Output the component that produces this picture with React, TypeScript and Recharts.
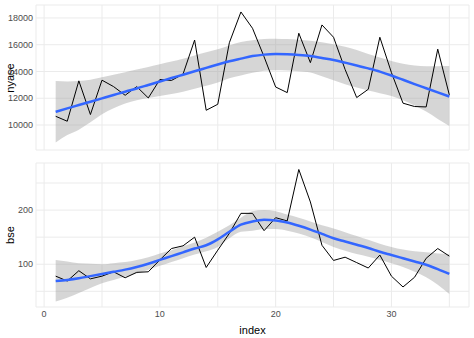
import React from 'react';
import { Area, CartesianGrid, ComposedChart, Label, Line, XAxis, YAxis } from 'recharts';

// values
const indexes = [
	1, 2, 3, 4, 5, 6, 7, 8, 9, 10, 11, 12, 13, 14, 15, 16, 17, 18, 19, 20, 21, 22, 23, 24, 25, 26, 27, 28, 29, 30, 31, 32, 33,
	34, 35,
];

const nyase = [
	10650, 10280, 13300, 10780, 13350, 12870, 12220, 12870, 12020, 13400, 13330, 13800, 16350, 11100, 11550, 16150, 18450,
	17230, 15100, 12840, 12420, 16860, 14660, 17480, 16560, 14150, 12050, 12670, 16560, 13920, 11630, 11380, 11350, 15670,
	12250,
];
const nyaseFit = [
	10980, 11240, 11490, 11740, 11990, 12240, 12490, 12730, 12990, 13250, 13510, 13760, 14020, 14270, 14520, 14760, 14960,
	15150, 15260, 15300, 15280, 15230, 15150, 15010, 14860, 14660, 14450, 14230, 13990, 13700, 13380, 13060, 12750, 12440,
	12130,
];
const nyaseHi = [
	13290, 13260, 13280, 13380, 13560, 13760, 13950, 14140, 14340, 14540, 14740, 14950, 15200, 15430, 15660, 15950, 16200,
	16330, 16420, 16450, 16420, 16370, 16300, 16190, 16030, 15840, 15600, 15300, 15050, 14780, 14580, 14440, 14400, 14400,
	14410,
];
const nyaseLo = [
	8700, 9250, 9650, 10200, 10800, 11250, 11600, 11850, 12020, 12170, 12320, 12480, 12700, 12930, 13170, 13500, 13700, 13900,
	14050, 14100, 14080, 14020, 13920, 13650, 13350, 13050, 12800, 12570, 12370, 12170, 11850, 11450, 11000, 10450, 9930,
];

const bse = [
	78, 69, 88, 73, 78, 86, 75, 85, 86, 108, 129, 134, 150, 94, 126, 157, 194, 194, 162, 186, 180, 275, 215, 135, 107, 113, 103,
	93, 117, 78, 58, 76, 111, 129, 115,
];
const bseFit = [
	69, 71, 74, 78, 82, 86, 90, 95, 101, 108, 115, 122, 129, 135, 146, 160, 173, 179, 182, 181, 177, 171, 164, 156, 148, 142,
	136, 130, 123, 117, 111, 105, 99, 91, 82,
];
const bseHi = [
	108, 105, 102, 101, 100, 102, 104, 108, 113, 120, 126, 133, 140, 149, 160, 172, 186, 198, 200, 198, 192, 186, 179, 172, 166,
	159, 152, 145, 138, 132, 127, 124, 122, 120, 119,
];
const bseLo = [
	31, 38, 47, 56, 65, 71, 77, 83, 90, 97, 104, 111, 118, 124, 132, 148, 160, 162, 165, 165, 162, 157, 150, 141, 132, 125, 119,
	114, 108, 102, 95, 86, 76, 62, 45,
];

const xTicks = [0, 5, 10, 15, 20, 25, 30, 35];
const nyaseTicks = [9000, 10000, 11000, 12000, 13000, 14000, 15000, 16000, 17000, 18000];
const bseTicks = [50, 100, 150, 200, 250];

const FONT = '"Liberation Sans", Arial, sans-serif';
const GRID = '#EBEBEB';
const tickStyle = { fontSize: 9, fill: '#4D4D4D', fontFamily: FONT };

const topData = indexes.map((index, i) => ({
	index,
	value: nyase[i],
	fit: nyaseFit[i],
	band: [nyaseLo[i], nyaseHi[i]],
}));
const bottomData = indexes.map((index, i) => ({
	index,
	value: bse[i],
	fit: bseFit[i],
	band: [bseLo[i], bseHi[i]],
}));

function yTitle(text: string, y: number) {
	return () => (
		<text
			x={10}
			y={y}
			transform={`rotate(-90 10 ${y})`}
			textAnchor="middle"
			dominantBaseline="central"
			fontSize={11}
			fontFamily={FONT}
			fill="#000"
		>
			{text}
		</text>
	);
}

function Series() {
	return [
		<Area
			key="band"
			type="monotone"
			dataKey="band"
			stroke="none"
			fill="#999999"
			fillOpacity={0.4}
			isAnimationActive={false}
		/>,
		<Line
			key="value"
			type="linear"
			dataKey="value"
			stroke="#000"
			strokeWidth={1}
			dot={false}
			isAnimationActive={false}
		/>,
		<Line
			key="fit"
			type="monotone"
			dataKey="fit"
			stroke="#3366FF"
			strokeWidth={2.5}
			dot={false}
			isAnimationActive={false}
		/>,
	];
}

export default function App() {
	return (
		<div style={{ position: 'absolute', left: 0, top: 0, width: 474, height: 338, background: '#fff' }}>
			<ComposedChart width={474} height={155} data={topData} margin={{ top: 5, right: 5, bottom: 5, left: 0 }}>
				<CartesianGrid stroke={GRID} strokeWidth={1} />
				<XAxis
					type="number"
					dataKey="index"
					domain={[-0.7, 36.7]}
					ticks={xTicks}
					allowDataOverflow
					hide
				/>
				<YAxis
					type="number"
					domain={[8130, 18970]}
					ticks={nyaseTicks}
					allowDataOverflow
					width={36}
					tickLine={false}
					axisLine={false}
					tickSize={0}
					tickMargin={3}
					tick={tickStyle}
					tickFormatter={(v: number) => (v % 2000 === 0 ? String(v) : '')}
				>
					<Label content={yTitle('nyase', 78)} />
				</YAxis>
				{Series()}
			</ComposedChart>
			<div style={{ position: 'absolute', left: 0, top: 155 }}>
				<ComposedChart width={474} height={183} data={bottomData} margin={{ top: 8, right: 5, bottom: 0, left: 0 }}>
					<CartesianGrid stroke={GRID} strokeWidth={1} />
					<XAxis
						type="number"
						dataKey="index"
						domain={[-0.7, 36.7]}
						ticks={xTicks}
						allowDataOverflow
						height={31}
						tickLine={false}
						axisLine={false}
						tickSize={0}
						tickMargin={4}
						tick={tickStyle}
						tickFormatter={(v: number) => (v % 10 === 0 ? String(v) : '')}
					>
						<Label value="index" position="insideBottom" offset={4} fontSize={11} fill="#000" fontFamily={FONT} />
					</XAxis>
					<YAxis
						type="number"
						domain={[21, 287]}
						ticks={bseTicks}
						allowDataOverflow
						width={36}
						tickLine={false}
						axisLine={false}
						tickSize={0}
						tickMargin={3}
						tick={tickStyle}
						tickFormatter={(v: number) => (v % 100 === 0 ? String(v) : '')}
					>
						<Label content={yTitle('bse', 80)} />
					</YAxis>
					{Series()}
				</ComposedChart>
			</div>
		</div>
	);
}
